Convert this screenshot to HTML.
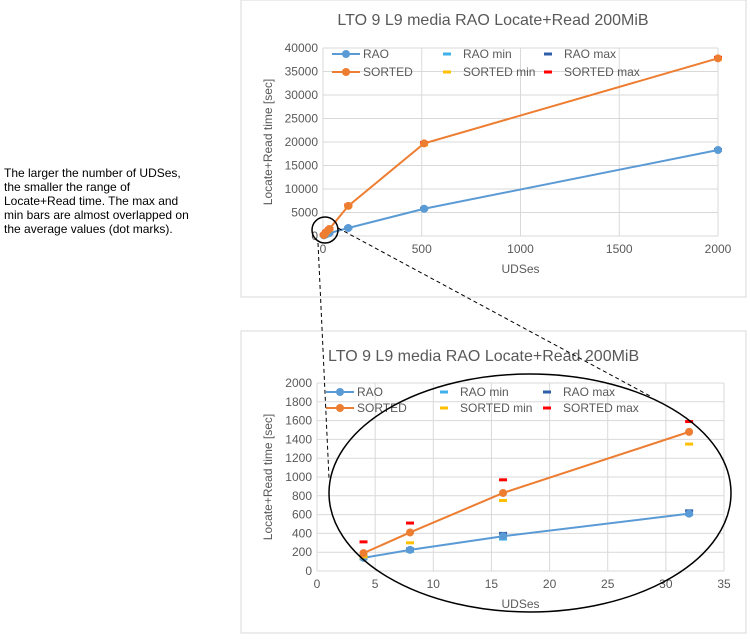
<!DOCTYPE html>
<html><head><meta charset="utf-8"><style>
body{margin:0;background:#fff;width:750px;height:644px;overflow:hidden;font-family:"Liberation Sans",sans-serif}
#note{position:absolute;left:4px;top:166px;font-size:12px;line-height:14px;color:#000;white-space:nowrap}
svg{position:absolute;left:0;top:0}
</style></head><body>
<div id="note">The larger the number of UDSes,<br>the smaller the range of<br>Locate+Read time. The max and<br>min bars are almost overlapped on<br>the average values (dot marks).</div>
<svg id="s" width="750" height="644"></svg>
<script>
const xTop=[4,8,16,32,128,512,2000];
const raoTop=[140,225,370,610,1700,5800,18300];
const sortedTop=[190,410,830,1480,6400,19700,37800];
const raoMinTop=[130,210,340,600,1650,5700,18200];
const raoMaxTop=[160,235,400,640,1800,5900,18400];
const sortedMinTop=[150,300,750,1350,6200,19400,37600];
const sortedMaxTop=[310,510,970,1590,6600,19900,38000];
const xBot=[4,8,16,32];
const raoBot=[140,225,370,610];
const sortedBot=[190,410,830,1480];
const raoMinBot=[130,210,340,600];
const raoMaxBot=[160,235,400,640];
const sortedMinBot=[150,300,750,1350];
const sortedMaxBot=[310,510,970,1590];
const xTicksTop=[0,500,1000,1500,2000];
const yTicksTop=[0,5000,10000,15000,20000,25000,30000,35000,40000];
const xTicksBot=[0,5,10,15,20,25,30,35];
const yTicksBot=[0,200,400,600,800,1000,1200,1400,1600,1800,2000];
const NS="http://www.w3.org/2000/svg";
const svg=document.getElementById('s');
function mk(t,a,p){const e=document.createElementNS(NS,t);for(const k in a)e.setAttribute(k,a[k]);(p||svg).appendChild(e);return e;}
function chart(o){
  const g=mk('g',{});
  
  
  const fr=mk('rect',{x:o.px,y:o.py,width:o.pw,height:o.ph,fill:'#fff',stroke:'#d9d9d9'},g);
  
  
  const X=v=>o.x0+(v-o.xmin)/(o.xmax-o.xmin)*(o.x1-o.x0);
  const Y=v=>o.y0-(v/o.ymax)*(o.y0-o.y1);
  o.xt.forEach(v=>{const l=mk('line',{x1:X(v),x2:X(v),y1:o.y1,y2:o.y0,stroke:'#d9d9d9'},g);
    
    
    const t=mk('text',{x:X(v),y:o.y0+17,'text-anchor':'middle','font-size':12,fill:'#595959'},g);t.textContent=v;
    
    });
  o.yt.forEach(v=>{const l=mk('line',{x1:o.x0,x2:o.x1,y1:Y(v),y2:Y(v),stroke:'#d9d9d9'},g);
    
    
    const t=mk('text',{x:o.x0-5,y:Y(v)+4,'text-anchor':'end','font-size':12,fill:'#595959'},g);t.textContent=v;
    
    });
  let t=mk('text',{x:o.tx,y:o.ty,'text-anchor':o.ta,'font-size':16,fill:'#595959'},g);t.textContent='LTO 9 L9 media RAO Locate+Read  200MiB';
  
  t=mk('text',{x:(o.x0+o.x1)/2,y:o.y0+37,'text-anchor':'middle','font-size':12,fill:'#595959'},g);t.textContent='UDSes';
  
  const yc=(o.y0+o.y1)/2;
  t=mk('text',{x:o.yx,y:yc,'text-anchor':'middle','font-size':12,fill:'#595959',transform:`rotate(-90 ${o.yx} ${yc})`},g);t.textContent='Locate+Read time [sec]';
  
  function bars(xs,vs,c,nm){xs.forEach((x,i)=>{const l=mk('line',{x1:X(x)-4,x2:X(x)+4,y1:Y(vs[i]),y2:Y(vs[i]),stroke:c,'stroke-width':3},g);
    });}
  function series(xs,vs,c,nm){
    const pl=mk('polyline',{points:xs.map((x,i)=>X(x)+','+Y(vs[i])).join(' '),fill:'none',stroke:c,'stroke-width':2},g);
    
    xs.forEach((x,i)=>{const p=mk('circle',{cx:X(x),cy:Y(vs[i]),r:4,fill:c},g);
      });}
  bars(o.xs,o.rmin,'#3fb0e8','rao-min-bar');bars(o.xs,o.rmax,'#2e5fa8','rao-max-bar');
  series(o.xs,o.rao,'#5b9bd5','rao');
  bars(o.xs,o.smin,'#ffc000','sorted-min-bar');bars(o.xs,o.smax,'#ff0000','sorted-max-bar');
  series(o.xs,o.sorted,'#ed7d31','sorted');
  const L=[['RAO','#5b9bd5',1,0,0],['SORTED','#ed7d31',1,0,1],['RAO min','#3fb0e8',0,1,0],['SORTED min','#ffc000',0,1,1],['RAO max','#2e5fa8',0,2,0],['SORTED max','#ff0000',0,2,1]];
  L.forEach(([n,c,ln,col,row])=>{const lx=o.lx[col],ly=o.ly[row];
    const lg=mk('g',{},g);
    if(ln){mk('line',{x1:lx-14,x2:lx+14,y1:ly,y2:ly,stroke:c,'stroke-width':2},lg);mk('circle',{cx:lx,cy:ly,r:4,fill:c},lg);}
    else mk('line',{x1:lx-4,x2:lx+4,y1:ly,y2:ly,stroke:c,'stroke-width':3},lg);
    const tt=mk('text',{x:lx+(ln?17:16),y:ly+4,'font-size':12,fill:'#595959'},lg);tt.textContent=n;});
}
chart({name:'overview-chart',px:241,py:0,pw:505,ph:297,x0:323,x1:718,xmin:0,xmax:2000,y0:236,y1:48,ymax:40000,
 xt:xTicksTop,yt:yTicksTop,tx:493,ty:25,ta:'middle',yx:272,xs:xTop,rao:raoTop,sorted:sortedTop,rmin:raoMinTop,rmax:raoMaxTop,smin:sortedMinTop,smax:sortedMaxTop,
 lx:[346,447,548],ly:[54,72]});
chart({name:'zoomed-chart',px:241,py:331,pw:505,ph:302,x0:317,x1:724,xmin:0,xmax:35,y0:571,y1:383,ymax:2000,
 xt:xTicksBot,yt:yTicksBot,tx:328,ty:361,ta:'start',yx:272,xs:xBot,rao:raoBot,sorted:sortedBot,rmin:raoMinBot,rmax:raoMaxBot,smin:sortedMinBot,smax:sortedMaxBot,
 lx:[340,444,547],ly:[392,408]});
let e=mk('circle',{cx:325,cy:230,r:13,fill:'none',stroke:'#000','stroke-width':1.5});

e=mk('ellipse',{cx:530,cy:493,rx:201,ry:119,fill:'none',stroke:'#000','stroke-width':1.5});

e=mk('line',{x1:318,y1:243,x2:329,y2:478,stroke:'#000','stroke-dasharray':'4,3'});

e=mk('line',{x1:338,y1:228,x2:650,y2:396,stroke:'#000','stroke-dasharray':'4,3'});

</script>
</body></html>
